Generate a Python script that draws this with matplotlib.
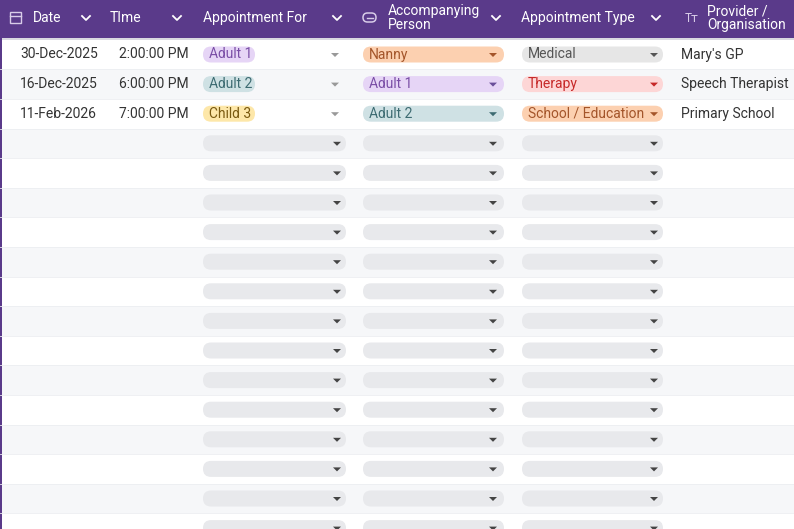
import matplotlib
matplotlib.use("Agg")
import matplotlib.pyplot as plt
from matplotlib.patches import FancyBboxPatch, Rectangle, Polygon

plt.rcParams['font.family'] = ['Roboto', 'DejaVu Sans']

# table data
dates = ["30-Dec-2025", "16-Dec-2025", "11-Feb-2026"]
times = ["2:00:00 PM", "6:00:00 PM", "7:00:00 PM"]
appt_for = ["Adult 1", "Adult 2", "Child 3"]
accompanying = ["Nanny", "Adult 1", "Adult 2"]
appt_type = ["Medical", "Therapy", "School / Education"]
providers = ["Mary's GP", "Speech Therapist", "Primary School"]
n_rows = 17

# tag colours: (fill, text)
tag_colors = {
    "Adult 1": ("#e6d5f6", "#7a4ea6"),
    "Adult 2": ("#cfe1e4", "#3d6b72"),
    "Child 3": ("#fde7a9", "#7a5a10"),
    "Nanny": ("#fcd0b0", "#a4552a"),
    "Medical": ("#e6e6e6", "#555555"),
    "Therapy": ("#fdd6d6", "#c62828"),
    "School / Education": ("#fcd0b0", "#a4552a"),
}
empty_fill = "#e8e9ec"
purple = "#5a3a8a"

W, H = 794, 529
fig = plt.figure(figsize=(W / 100, H / 100), dpi=100)
ax = fig.add_axes([0, 0, 1, 1])
ax.set_xlim(0, W)
ax.set_ylim(H, 0)
ax.axis("off")

row0 = 54.5
pitch = 29.6
ph = 16
fs = 10


def pill(x0, x1, yc, fill):
    ax.add_patch(FancyBboxPatch((x0, yc - ph / 2), x1 - x0, ph,
                                boxstyle="round,pad=0,rounding_size=8",
                                fc=fill, ec="none"))


def arrow(x, yc, color="#555555"):
    ax.add_patch(Polygon([[x - 4, yc - 1.5], [x + 4, yc - 1.5], [x, yc + 2.5]],
                         closed=True, fc=color, ec="none"))


for r in range(n_rows):
    yc = row0 + pitch * r
    bg = "white" if r % 2 == 0 else "#f6f7f9"
    ax.add_patch(Rectangle((0, yc - pitch / 2), W, pitch, fc=bg, ec="none"))
    ax.plot([0, W], [yc + pitch / 2, yc + pitch / 2], color="#eceef1", lw=0.6)
    if r < len(dates):
        ax.text(20, yc, dates[r], fontsize=fs, color="#333333", va="center")
        ax.text(119, yc, times[r], fontsize=fs, color="#333333", va="center")
        # appointment for: short tag
        t = appt_for[r]
        fc, tc = tag_colors[t]
        pill(203, 203 + 7.0 * len(t) + 3, yc, fc)
        ax.text(209, yc, t, fontsize=fs, color=tc, va="center")
        arrow(335, yc, "#999999")
        t = accompanying[r]
        fc, tc = tag_colors[t]
        pill(363, 504, yc, fc)
        ax.text(369, yc, t, fontsize=fs, color=tc, va="center")
        arrow(493, yc, "#6a4f9a" if t == "Adult 1" else ("#3d6b72" if t == "Adult 2" else "#a4552a"))
        t = appt_type[r]
        fc, tc = tag_colors[t]
        pill(522, 663, yc, fc)
        ax.text(528, yc, t, fontsize=fs, color=tc, va="center")
        arrow(654, yc, tc)
        ax.text(681, yc, providers[r], fontsize=fs, color="#333333", va="center")
    else:
        for x0, x1, xa in [(203, 346, 337), (363, 504, 493), (522, 663, 654)]:
            pill(x0, x1, yc, empty_fill)
            arrow(xa, yc, "#444444")

# header
ax.add_patch(Rectangle((0, 0), W, 38, fc=purple, ec="none"))
ax.add_patch(Rectangle((0, 38), W, 2, fc="#d9d9e0", ec="none"))
ax.add_patch(Rectangle((0, 0), 2, H, fc=purple, ec="none"))
hdr = dict(color="white", fontsize=fs, va="center")
# calendar icon
ax.add_patch(Rectangle((10, 12), 11, 11, fc="none", ec="#d8cce8", lw=1))
ax.plot([10, 21], [15.5, 15.5], color="#d8cce8", lw=1)
ax.text(33, 18, "Date", **hdr)
ax.text(110, 18, "TIme", **hdr)
ax.text(203, 18, "Appointment For", **hdr)
# dropdown icon
ax.add_patch(FancyBboxPatch((363, 13), 13, 9, boxstyle="round,pad=0,rounding_size=4.5",
                            fc="none", ec="#d8cce8", lw=1.1))
ax.plot([366.5, 372.5], [17.5, 17.5], color="#d8cce8", lw=1)
ax.text(388, 18, "Accompanying\nPerson", linespacing=0.95, **hdr)
ax.text(521, 18, "Appointment Type", **hdr)
ax.text(685, 18, "T\u1d1b", color="#d8cce8", fontsize=8.5, va="center")
ax.text(707, 18, "Provider /\nOrganisation", linespacing=0.95, **hdr)
for xc in [86, 177, 337, 496, 656]:
    ax.plot([xc - 4, xc, xc + 4], [16, 20, 16], color="white", lw=1.3)

fig.savefig("out.png", dpi=100)
